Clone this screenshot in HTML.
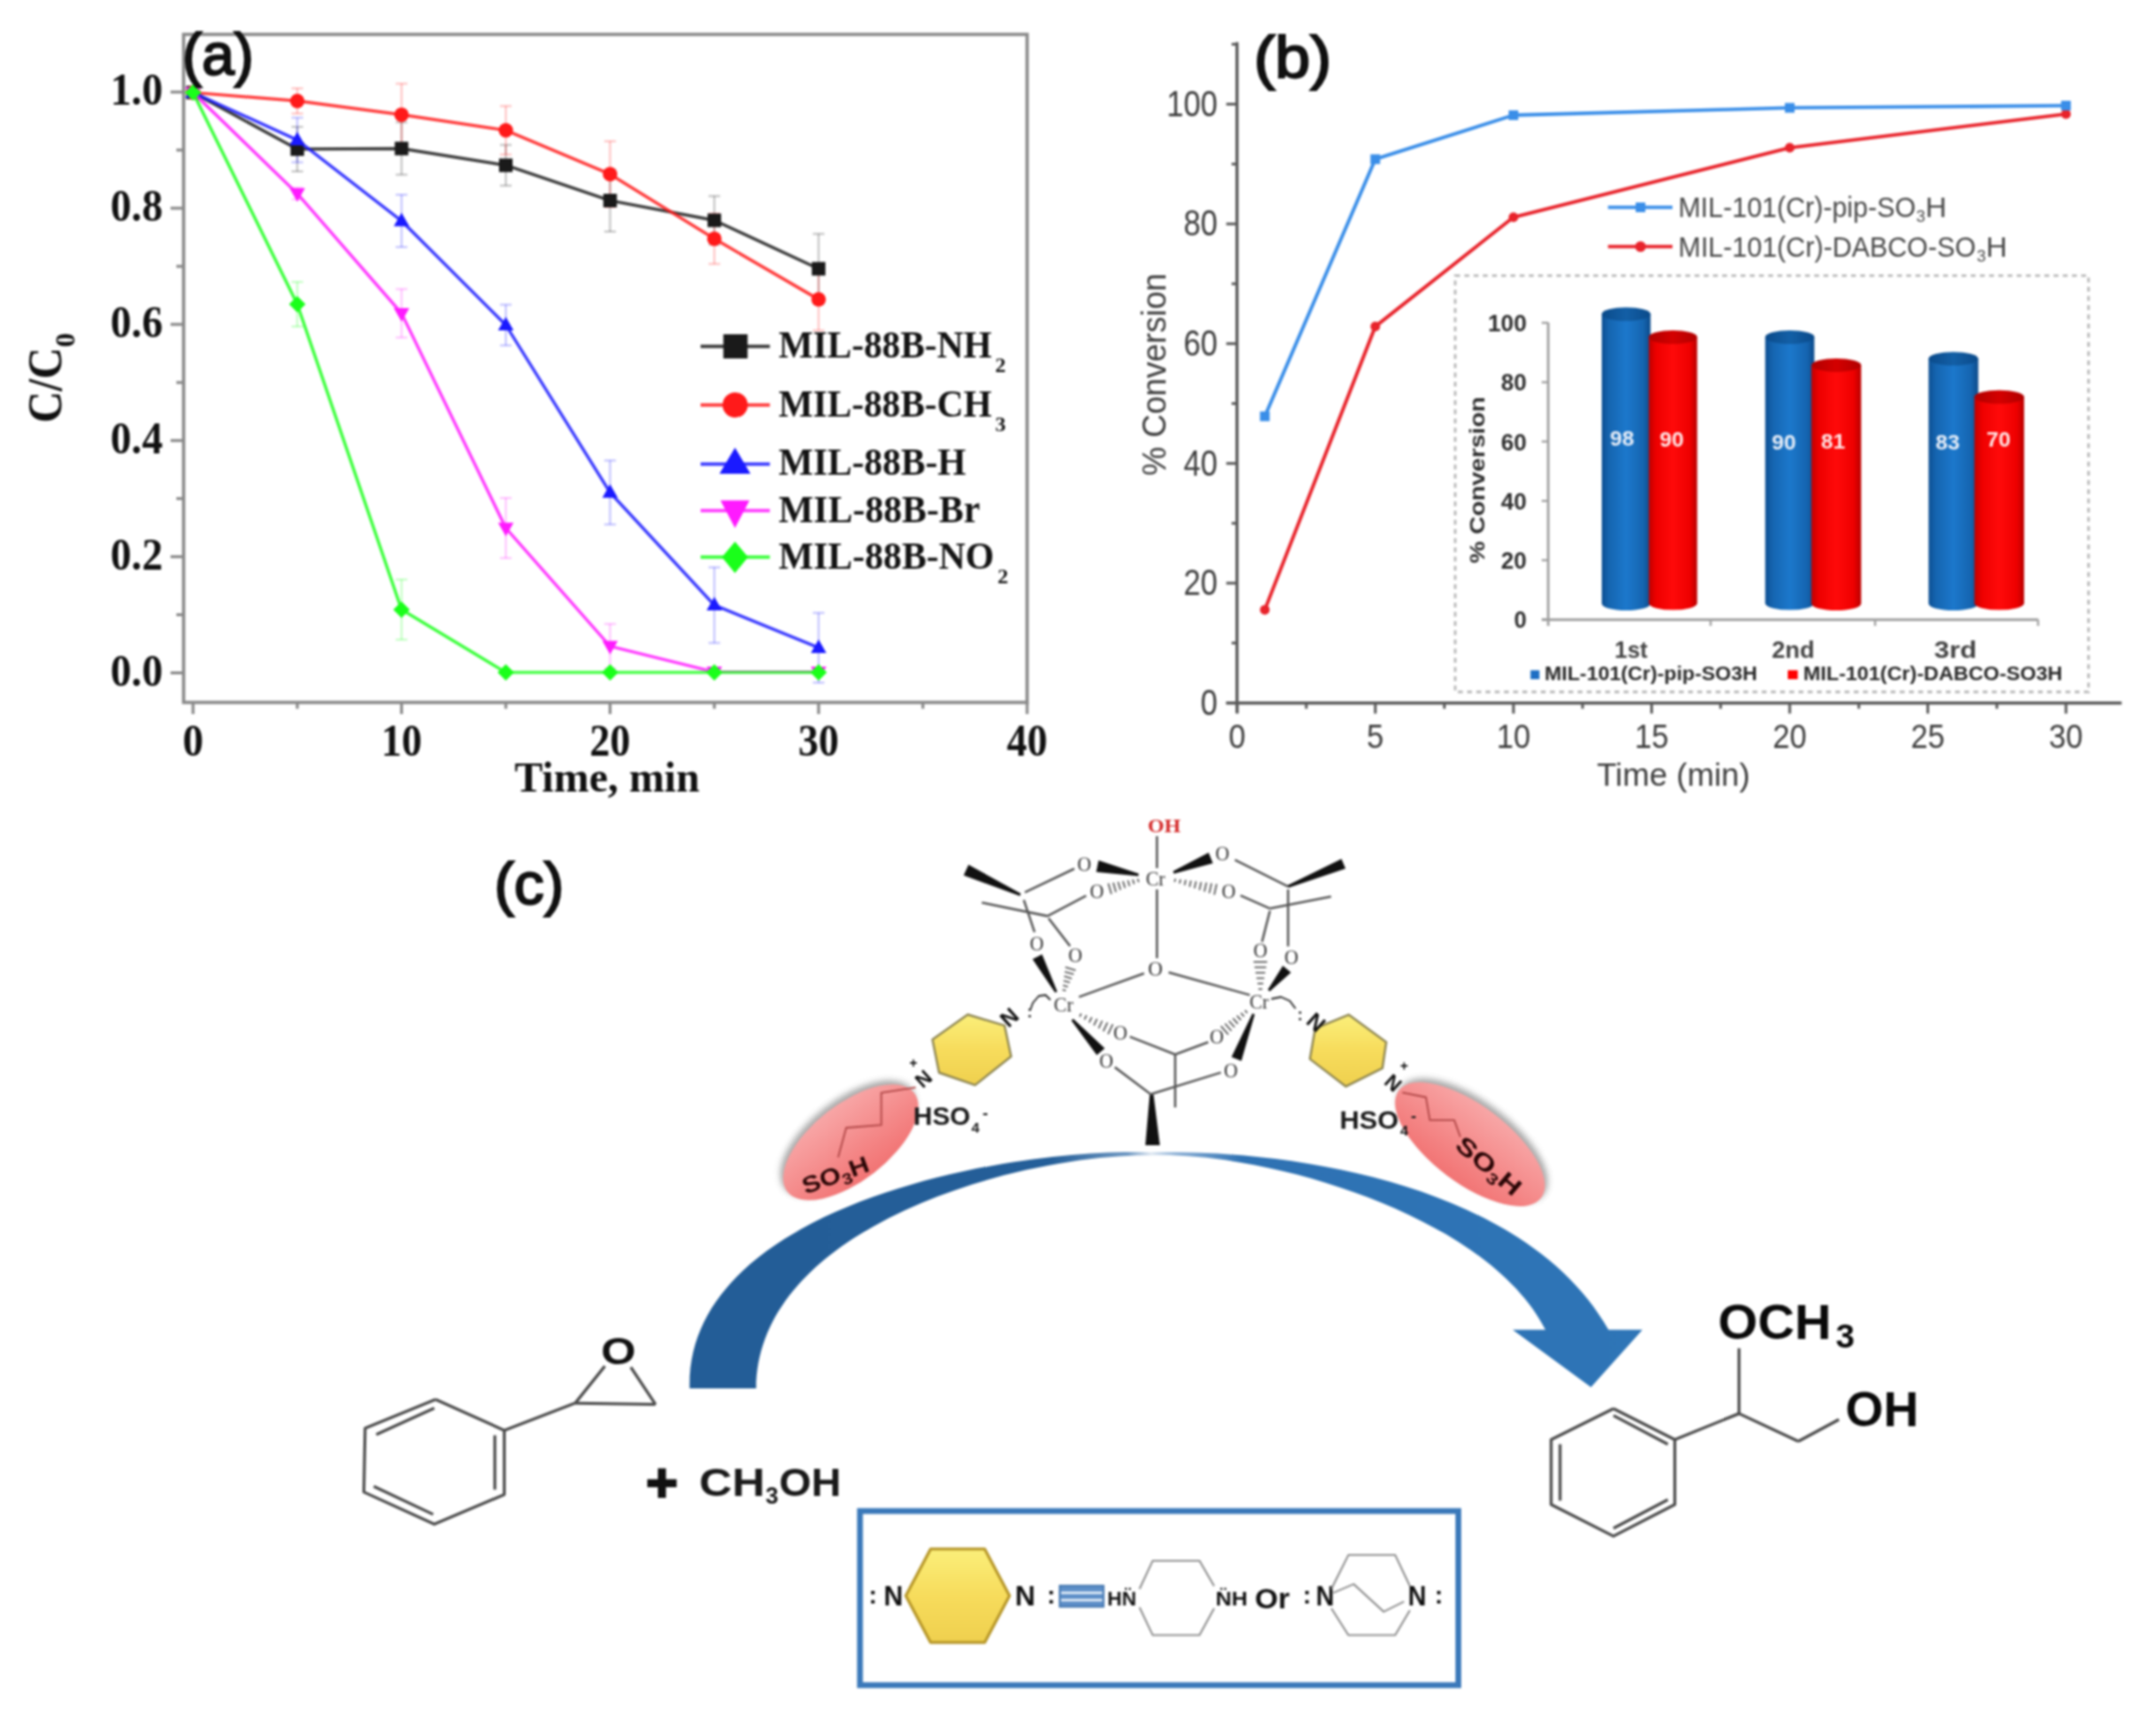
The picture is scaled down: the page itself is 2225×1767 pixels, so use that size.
<!DOCTYPE html><html><head><meta charset="utf-8"><title>Figure</title><style>html,body{margin:0;padding:0;background:#fff;}svg{display:block;}#fig{filter:blur(1px);width:2225px;height:1767px;}</style></head><body><div id="fig">
<svg width="2225" height="1767" viewBox="0 0 2225 1767">
<defs>
<linearGradient id="gb" x1="0" x2="1" y1="0" y2="0"><stop offset="0" stop-color="#0d4f93"/><stop offset="0.15" stop-color="#1565b0"/><stop offset="0.5" stop-color="#1c78cc"/><stop offset="0.85" stop-color="#1565b0"/><stop offset="1" stop-color="#0c4a8a"/></linearGradient>
<linearGradient id="gr" x1="0" x2="1" y1="0" y2="0"><stop offset="0" stop-color="#c00000"/><stop offset="0.15" stop-color="#ee0000"/><stop offset="0.5" stop-color="#ff0a0a"/><stop offset="0.85" stop-color="#ee0000"/><stop offset="1" stop-color="#b80000"/></linearGradient>
<linearGradient id="tb" x1="0" x2="1" y1="0" y2="0"><stop offset="0" stop-color="#0a4a8a"/><stop offset="0.5" stop-color="#135fa6"/><stop offset="1" stop-color="#0a4a8a"/></linearGradient>
<linearGradient id="tr" x1="0" x2="1" y1="0" y2="0"><stop offset="0" stop-color="#b00000"/><stop offset="0.5" stop-color="#d40000"/><stop offset="1" stop-color="#b00000"/></linearGradient>
<linearGradient id="arc" gradientUnits="userSpaceOnUse" x1="711" y1="0" x2="1695" y2="0"><stop offset="0" stop-color="#235d97"/><stop offset="0.38" stop-color="#255f99"/><stop offset="0.46" stop-color="#6f98c2"/><stop offset="0.485" stop-color="#dfe8f2"/><stop offset="0.51" stop-color="#8fb2d6"/><stop offset="0.58" stop-color="#2f72b3"/><stop offset="1" stop-color="#2e75b7"/></linearGradient>
<linearGradient id="yel" x1="0" x2="0" y1="0" y2="1"><stop offset="0" stop-color="#fbef7a"/><stop offset="0.5" stop-color="#f7dc5c"/><stop offset="1" stop-color="#efd04e"/></linearGradient>
<linearGradient id="pink" x1="0" x2="0" y1="0" y2="1"><stop offset="0" stop-color="#f8a6a6"/><stop offset="1" stop-color="#f27474"/></linearGradient>
<filter id="blur3" x="-20%" y="-20%" width="140%" height="140%"><feGaussianBlur stdDeviation="3"/></filter>
<filter id="blur1" x="-20%" y="-20%" width="140%" height="140%"><feGaussianBlur stdDeviation="0.6"/></filter>
</defs>
<rect width="2225" height="1767" fill="#fff"/>
<rect x="189.5" y="35.5" width="870.5" height="689.5" fill="none" stroke="#8a8a8a" stroke-width="3.4"/>
<line x1="176" y1="694.5" x2="189.5" y2="694.5" stroke="#8a8a8a" stroke-width="3"/>
<line x1="182" y1="634.5" x2="189.5" y2="634.5" stroke="#8a8a8a" stroke-width="3"/>
<line x1="176" y1="574.6" x2="189.5" y2="574.6" stroke="#8a8a8a" stroke-width="3"/>
<line x1="182" y1="514.6" x2="189.5" y2="514.6" stroke="#8a8a8a" stroke-width="3"/>
<line x1="176" y1="454.7" x2="189.5" y2="454.7" stroke="#8a8a8a" stroke-width="3"/>
<line x1="182" y1="394.8" x2="189.5" y2="394.8" stroke="#8a8a8a" stroke-width="3"/>
<line x1="176" y1="334.8" x2="189.5" y2="334.8" stroke="#8a8a8a" stroke-width="3"/>
<line x1="182" y1="274.9" x2="189.5" y2="274.9" stroke="#8a8a8a" stroke-width="3"/>
<line x1="176" y1="214.9" x2="189.5" y2="214.9" stroke="#8a8a8a" stroke-width="3"/>
<line x1="182" y1="154.9" x2="189.5" y2="154.9" stroke="#8a8a8a" stroke-width="3"/>
<line x1="176" y1="95" x2="189.5" y2="95" stroke="#8a8a8a" stroke-width="3"/>
<line x1="199.2" y1="725" x2="199.2" y2="737" stroke="#8a8a8a" stroke-width="3"/>
<line x1="306.8" y1="725" x2="306.8" y2="731.5" stroke="#8a8a8a" stroke-width="3"/>
<line x1="414.4" y1="725" x2="414.4" y2="737" stroke="#8a8a8a" stroke-width="3"/>
<line x1="522" y1="725" x2="522" y2="731.5" stroke="#8a8a8a" stroke-width="3"/>
<line x1="629.6" y1="725" x2="629.6" y2="737" stroke="#8a8a8a" stroke-width="3"/>
<line x1="737.2" y1="725" x2="737.2" y2="731.5" stroke="#8a8a8a" stroke-width="3"/>
<line x1="844.8" y1="725" x2="844.8" y2="737" stroke="#8a8a8a" stroke-width="3"/>
<line x1="952.4" y1="725" x2="952.4" y2="731.5" stroke="#8a8a8a" stroke-width="3"/>
<line x1="1060" y1="725" x2="1060" y2="737" stroke="#8a8a8a" stroke-width="3"/>
<text x="168" y="707.7" font-family="'Liberation Serif', 'Times New Roman', serif" font-size="45.5" font-weight="bold" fill="#111" text-anchor="end" textLength="54" lengthAdjust="spacingAndGlyphs">0.0</text>
<text x="168" y="587.8" font-family="'Liberation Serif', 'Times New Roman', serif" font-size="45.5" font-weight="bold" fill="#111" text-anchor="end" textLength="54" lengthAdjust="spacingAndGlyphs">0.2</text>
<text x="168" y="467.9" font-family="'Liberation Serif', 'Times New Roman', serif" font-size="45.5" font-weight="bold" fill="#111" text-anchor="end" textLength="54" lengthAdjust="spacingAndGlyphs">0.4</text>
<text x="168" y="348" font-family="'Liberation Serif', 'Times New Roman', serif" font-size="45.5" font-weight="bold" fill="#111" text-anchor="end" textLength="54" lengthAdjust="spacingAndGlyphs">0.6</text>
<text x="168" y="228.1" font-family="'Liberation Serif', 'Times New Roman', serif" font-size="45.5" font-weight="bold" fill="#111" text-anchor="end" textLength="54" lengthAdjust="spacingAndGlyphs">0.8</text>
<text x="168" y="108.2" font-family="'Liberation Serif', 'Times New Roman', serif" font-size="45.5" font-weight="bold" fill="#111" text-anchor="end" textLength="54" lengthAdjust="spacingAndGlyphs">1.0</text>
<text x="199.2" y="780" font-family="'Liberation Serif', 'Times New Roman', serif" font-size="45.5" font-weight="bold" fill="#111" text-anchor="middle" textLength="21.5" lengthAdjust="spacingAndGlyphs">0</text>
<text x="414.4" y="780" font-family="'Liberation Serif', 'Times New Roman', serif" font-size="45.5" font-weight="bold" fill="#111" text-anchor="middle" textLength="42" lengthAdjust="spacingAndGlyphs">10</text>
<text x="629.6" y="780" font-family="'Liberation Serif', 'Times New Roman', serif" font-size="45.5" font-weight="bold" fill="#111" text-anchor="middle" textLength="42" lengthAdjust="spacingAndGlyphs">20</text>
<text x="844.8" y="780" font-family="'Liberation Serif', 'Times New Roman', serif" font-size="45.5" font-weight="bold" fill="#111" text-anchor="middle" textLength="42" lengthAdjust="spacingAndGlyphs">30</text>
<text x="1060" y="780" font-family="'Liberation Serif', 'Times New Roman', serif" font-size="45.5" font-weight="bold" fill="#111" text-anchor="middle" textLength="42" lengthAdjust="spacingAndGlyphs">40</text>
<text x="531" y="816.5" font-family="'Liberation Serif', 'Times New Roman', serif" font-size="45" font-weight="bold" fill="#111" text-anchor="start" textLength="191" lengthAdjust="spacingAndGlyphs">Time, min</text>
<g transform="translate(62.5,436.5) rotate(-90)">
<text x="0" y="0" font-family="'Liberation Serif', 'Times New Roman', serif" font-size="50" font-weight="bold" fill="#111"><tspan textLength="78" lengthAdjust="spacingAndGlyphs">C/C</tspan><tspan font-size="30" dy="14">0</tspan></text>
</g>
<line x1="306.8" y1="130.9" x2="306.8" y2="176.9" stroke="rgba(0,0,0,0.22)" stroke-width="2.2"/>
<line x1="300.8" y1="130.9" x2="312.8" y2="130.9" stroke="rgba(0,0,0,0.22)" stroke-width="2.2"/>
<line x1="300.8" y1="176.9" x2="312.8" y2="176.9" stroke="rgba(0,0,0,0.22)" stroke-width="2.2"/>
<line x1="414.4" y1="126.3" x2="414.4" y2="180.3" stroke="rgba(0,0,0,0.22)" stroke-width="2.2"/>
<line x1="408.4" y1="126.3" x2="420.4" y2="126.3" stroke="rgba(0,0,0,0.22)" stroke-width="2.2"/>
<line x1="408.4" y1="180.3" x2="420.4" y2="180.3" stroke="rgba(0,0,0,0.22)" stroke-width="2.2"/>
<line x1="522" y1="149.6" x2="522" y2="191.6" stroke="rgba(0,0,0,0.22)" stroke-width="2.2"/>
<line x1="516" y1="149.6" x2="528" y2="149.6" stroke="rgba(0,0,0,0.22)" stroke-width="2.2"/>
<line x1="516" y1="191.6" x2="528" y2="191.6" stroke="rgba(0,0,0,0.22)" stroke-width="2.2"/>
<line x1="629.6" y1="175" x2="629.6" y2="239" stroke="rgba(0,0,0,0.22)" stroke-width="2.2"/>
<line x1="623.6" y1="175" x2="635.6" y2="175" stroke="rgba(0,0,0,0.22)" stroke-width="2.2"/>
<line x1="623.6" y1="239" x2="635.6" y2="239" stroke="rgba(0,0,0,0.22)" stroke-width="2.2"/>
<line x1="737.2" y1="202.4" x2="737.2" y2="252.4" stroke="rgba(0,0,0,0.22)" stroke-width="2.2"/>
<line x1="731.2" y1="202.4" x2="743.2" y2="202.4" stroke="rgba(0,0,0,0.22)" stroke-width="2.2"/>
<line x1="731.2" y1="252.4" x2="743.2" y2="252.4" stroke="rgba(0,0,0,0.22)" stroke-width="2.2"/>
<line x1="844.8" y1="241.4" x2="844.8" y2="313.4" stroke="rgba(0,0,0,0.22)" stroke-width="2.2"/>
<line x1="838.8" y1="241.4" x2="850.8" y2="241.4" stroke="rgba(0,0,0,0.22)" stroke-width="2.2"/>
<line x1="838.8" y1="313.4" x2="850.8" y2="313.4" stroke="rgba(0,0,0,0.22)" stroke-width="2.2"/>
<line x1="306.8" y1="91.2" x2="306.8" y2="117.2" stroke="rgba(255,0,0,0.22)" stroke-width="2.2"/>
<line x1="300.8" y1="91.2" x2="312.8" y2="91.2" stroke="rgba(255,0,0,0.22)" stroke-width="2.2"/>
<line x1="300.8" y1="117.2" x2="312.8" y2="117.2" stroke="rgba(255,0,0,0.22)" stroke-width="2.2"/>
<line x1="414.4" y1="86.4" x2="414.4" y2="150.4" stroke="rgba(255,0,0,0.22)" stroke-width="2.2"/>
<line x1="408.4" y1="86.4" x2="420.4" y2="86.4" stroke="rgba(255,0,0,0.22)" stroke-width="2.2"/>
<line x1="408.4" y1="150.4" x2="420.4" y2="150.4" stroke="rgba(255,0,0,0.22)" stroke-width="2.2"/>
<line x1="522" y1="109.5" x2="522" y2="159.5" stroke="rgba(255,0,0,0.22)" stroke-width="2.2"/>
<line x1="516" y1="109.5" x2="528" y2="109.5" stroke="rgba(255,0,0,0.22)" stroke-width="2.2"/>
<line x1="516" y1="159.5" x2="528" y2="159.5" stroke="rgba(255,0,0,0.22)" stroke-width="2.2"/>
<line x1="629.6" y1="145.8" x2="629.6" y2="213.8" stroke="rgba(255,0,0,0.22)" stroke-width="2.2"/>
<line x1="623.6" y1="145.8" x2="635.6" y2="145.8" stroke="rgba(255,0,0,0.22)" stroke-width="2.2"/>
<line x1="623.6" y1="213.8" x2="635.6" y2="213.8" stroke="rgba(255,0,0,0.22)" stroke-width="2.2"/>
<line x1="737.2" y1="220.4" x2="737.2" y2="272.4" stroke="rgba(255,0,0,0.22)" stroke-width="2.2"/>
<line x1="731.2" y1="220.4" x2="743.2" y2="220.4" stroke="rgba(255,0,0,0.22)" stroke-width="2.2"/>
<line x1="731.2" y1="272.4" x2="743.2" y2="272.4" stroke="rgba(255,0,0,0.22)" stroke-width="2.2"/>
<line x1="844.8" y1="277" x2="844.8" y2="341" stroke="rgba(255,0,0,0.22)" stroke-width="2.2"/>
<line x1="838.8" y1="277" x2="850.8" y2="277" stroke="rgba(255,0,0,0.22)" stroke-width="2.2"/>
<line x1="838.8" y1="341" x2="850.8" y2="341" stroke="rgba(255,0,0,0.22)" stroke-width="2.2"/>
<line x1="306.8" y1="121.5" x2="306.8" y2="167.5" stroke="rgba(0,0,255,0.22)" stroke-width="2.2"/>
<line x1="300.8" y1="121.5" x2="312.8" y2="121.5" stroke="rgba(0,0,255,0.22)" stroke-width="2.2"/>
<line x1="300.8" y1="167.5" x2="312.8" y2="167.5" stroke="rgba(0,0,255,0.22)" stroke-width="2.2"/>
<line x1="414.4" y1="201" x2="414.4" y2="255" stroke="rgba(0,0,255,0.22)" stroke-width="2.2"/>
<line x1="408.4" y1="201" x2="420.4" y2="201" stroke="rgba(0,0,255,0.22)" stroke-width="2.2"/>
<line x1="408.4" y1="255" x2="420.4" y2="255" stroke="rgba(0,0,255,0.22)" stroke-width="2.2"/>
<line x1="522" y1="314.5" x2="522" y2="356.5" stroke="rgba(0,0,255,0.22)" stroke-width="2.2"/>
<line x1="516" y1="314.5" x2="528" y2="314.5" stroke="rgba(0,0,255,0.22)" stroke-width="2.2"/>
<line x1="516" y1="356.5" x2="528" y2="356.5" stroke="rgba(0,0,255,0.22)" stroke-width="2.2"/>
<line x1="629.6" y1="475.3" x2="629.6" y2="541.3" stroke="rgba(0,0,255,0.22)" stroke-width="2.2"/>
<line x1="623.6" y1="475.3" x2="635.6" y2="475.3" stroke="rgba(0,0,255,0.22)" stroke-width="2.2"/>
<line x1="623.6" y1="541.3" x2="635.6" y2="541.3" stroke="rgba(0,0,255,0.22)" stroke-width="2.2"/>
<line x1="737.2" y1="585.6" x2="737.2" y2="663.6" stroke="rgba(0,0,255,0.22)" stroke-width="2.2"/>
<line x1="731.2" y1="585.6" x2="743.2" y2="585.6" stroke="rgba(0,0,255,0.22)" stroke-width="2.2"/>
<line x1="731.2" y1="663.6" x2="743.2" y2="663.6" stroke="rgba(0,0,255,0.22)" stroke-width="2.2"/>
<line x1="844.8" y1="632.6" x2="844.8" y2="704.6" stroke="rgba(0,0,255,0.22)" stroke-width="2.2"/>
<line x1="838.8" y1="632.6" x2="850.8" y2="632.6" stroke="rgba(0,0,255,0.22)" stroke-width="2.2"/>
<line x1="838.8" y1="704.6" x2="850.8" y2="704.6" stroke="rgba(0,0,255,0.22)" stroke-width="2.2"/>
<line x1="306.8" y1="193.8" x2="306.8" y2="205.8" stroke="rgba(255,0,255,0.22)" stroke-width="2.2"/>
<line x1="300.8" y1="193.8" x2="312.8" y2="193.8" stroke="rgba(255,0,255,0.22)" stroke-width="2.2"/>
<line x1="300.8" y1="205.8" x2="312.8" y2="205.8" stroke="rgba(255,0,255,0.22)" stroke-width="2.2"/>
<line x1="414.4" y1="298.4" x2="414.4" y2="348.4" stroke="rgba(255,0,255,0.22)" stroke-width="2.2"/>
<line x1="408.4" y1="298.4" x2="420.4" y2="298.4" stroke="rgba(255,0,255,0.22)" stroke-width="2.2"/>
<line x1="408.4" y1="348.4" x2="420.4" y2="348.4" stroke="rgba(255,0,255,0.22)" stroke-width="2.2"/>
<line x1="522" y1="514" x2="522" y2="576" stroke="rgba(255,0,255,0.22)" stroke-width="2.2"/>
<line x1="516" y1="514" x2="528" y2="514" stroke="rgba(255,0,255,0.22)" stroke-width="2.2"/>
<line x1="516" y1="576" x2="528" y2="576" stroke="rgba(255,0,255,0.22)" stroke-width="2.2"/>
<line x1="629.6" y1="644" x2="629.6" y2="690" stroke="rgba(255,0,255,0.22)" stroke-width="2.2"/>
<line x1="623.6" y1="644" x2="635.6" y2="644" stroke="rgba(255,0,255,0.22)" stroke-width="2.2"/>
<line x1="623.6" y1="690" x2="635.6" y2="690" stroke="rgba(255,0,255,0.22)" stroke-width="2.2"/>
<line x1="306.8" y1="291" x2="306.8" y2="337" stroke="rgba(0,255,0,0.22)" stroke-width="2.2"/>
<line x1="300.8" y1="291" x2="312.8" y2="291" stroke="rgba(0,255,0,0.22)" stroke-width="2.2"/>
<line x1="300.8" y1="337" x2="312.8" y2="337" stroke="rgba(0,255,0,0.22)" stroke-width="2.2"/>
<line x1="414.4" y1="598.2" x2="414.4" y2="660.2" stroke="rgba(0,255,0,0.22)" stroke-width="2.2"/>
<line x1="408.4" y1="598.2" x2="420.4" y2="598.2" stroke="rgba(0,255,0,0.22)" stroke-width="2.2"/>
<line x1="408.4" y1="660.2" x2="420.4" y2="660.2" stroke="rgba(0,255,0,0.22)" stroke-width="2.2"/>
<polyline points="199.2,95.5 306.8,153.9 414.4,153.3 522,170.6 629.6,207 737.2,227.4 844.8,277.4" fill="none" stroke="#1a1a1a" stroke-width="3.2" stroke-linejoin="round" opacity="0.85"/>
<rect x="192.2" y="88.5" width="14" height="14" fill="#1a1a1a"/>
<rect x="299.8" y="146.9" width="14" height="14" fill="#1a1a1a"/>
<rect x="407.4" y="146.3" width="14" height="14" fill="#1a1a1a"/>
<rect x="515" y="163.6" width="14" height="14" fill="#1a1a1a"/>
<rect x="622.6" y="200" width="14" height="14" fill="#1a1a1a"/>
<rect x="730.2" y="220.4" width="14" height="14" fill="#1a1a1a"/>
<rect x="837.8" y="270.4" width="14" height="14" fill="#1a1a1a"/>
<polyline points="199.2,95.5 306.8,104.2 414.4,118.4 522,134.5 629.6,179.8 737.2,246.4 844.8,309" fill="none" stroke="#ff1a1a" stroke-width="3.2" stroke-linejoin="round" opacity="0.85"/>
<circle cx="199.2" cy="95.5" r="7.5" fill="#ff1a1a"/>
<circle cx="306.8" cy="104.2" r="7.5" fill="#ff1a1a"/>
<circle cx="414.4" cy="118.4" r="7.5" fill="#ff1a1a"/>
<circle cx="522" cy="134.5" r="7.5" fill="#ff1a1a"/>
<circle cx="629.6" cy="179.8" r="7.5" fill="#ff1a1a"/>
<circle cx="737.2" cy="246.4" r="7.5" fill="#ff1a1a"/>
<circle cx="844.8" cy="309" r="7.5" fill="#ff1a1a"/>
<polyline points="199.2,95.5 306.8,144.5 414.4,228 522,335.5 629.6,508.3 737.2,624.6 844.8,668.6" fill="none" stroke="#1a1aff" stroke-width="3.2" stroke-linejoin="round" opacity="0.85"/>
<polygon points="199.2,87 207.2,101 191.2,101" fill="#1a1aff"/>
<polygon points="306.8,136 314.8,150 298.8,150" fill="#1a1aff"/>
<polygon points="414.4,219.5 422.4,233.5 406.4,233.5" fill="#1a1aff"/>
<polygon points="522,327 530,341 514,341" fill="#1a1aff"/>
<polygon points="629.6,499.8 637.6,513.8 621.6,513.8" fill="#1a1aff"/>
<polygon points="737.2,616.1 745.2,630.1 729.2,630.1" fill="#1a1aff"/>
<polygon points="844.8,660.1 852.8,674.1 836.8,674.1" fill="#1a1aff"/>
<polyline points="199.2,95.5 306.8,199.8 414.4,323.4 522,545 629.6,667 737.2,693.5 844.8,693.5" fill="none" stroke="#ff1aff" stroke-width="3.2" stroke-linejoin="round" opacity="0.85"/>
<polygon points="191.2,90 207.2,90 199.2,104" fill="#ff1aff"/>
<polygon points="298.8,194.3 314.8,194.3 306.8,208.3" fill="#ff1aff"/>
<polygon points="406.4,317.9 422.4,317.9 414.4,331.9" fill="#ff1aff"/>
<polygon points="514,539.5 530,539.5 522,553.5" fill="#ff1aff"/>
<polygon points="621.6,661.5 637.6,661.5 629.6,675.5" fill="#ff1aff"/>
<polygon points="729.2,688 745.2,688 737.2,702" fill="#ff1aff"/>
<polygon points="836.8,688 852.8,688 844.8,702" fill="#ff1aff"/>
<polyline points="199.2,95.5 306.8,314 414.4,629.2 522,694 629.6,694 737.2,694 844.8,694" fill="none" stroke="#1aff1a" stroke-width="3.2" stroke-linejoin="round" opacity="0.85"/>
<polygon points="199.2,87 207.7,95.5 199.2,104 190.7,95.5" fill="#1aff1a"/>
<polygon points="306.8,305.5 315.3,314 306.8,322.5 298.3,314" fill="#1aff1a"/>
<polygon points="414.4,620.7 422.9,629.2 414.4,637.7 405.9,629.2" fill="#1aff1a"/>
<polygon points="522,685.5 530.5,694 522,702.5 513.5,694" fill="#1aff1a"/>
<polygon points="629.6,685.5 638.1,694 629.6,702.5 621.1,694" fill="#1aff1a"/>
<polygon points="737.2,685.5 745.7,694 737.2,702.5 728.7,694" fill="#1aff1a"/>
<polygon points="844.8,685.5 853.3,694 844.8,702.5 836.3,694" fill="#1aff1a"/>
<line x1="723" y1="357.5" x2="794.5" y2="357.5" stroke="#1a1a1a" stroke-width="3.4" opacity="0.85"/>
<rect x="746.5" y="345" width="25" height="25" fill="#1a1a1a"/>
<text x="803.5" y="368.5" font-family="'Liberation Serif', 'Times New Roman', serif" font-size="39.5" font-weight="bold" fill="#141414" text-anchor="start" textLength="220" lengthAdjust="spacingAndGlyphs">MIL-88B-NH</text>
<text x="1027" y="383.5" font-family="'Liberation Serif', 'Times New Roman', serif" font-size="22" font-weight="bold" fill="#141414" text-anchor="start">2</text>
<line x1="723" y1="418" x2="794.5" y2="418" stroke="#ff1a1a" stroke-width="3.4" opacity="0.85"/>
<circle cx="758.7" cy="418" r="13" fill="#ff1a1a"/>
<text x="803.5" y="430" font-family="'Liberation Serif', 'Times New Roman', serif" font-size="39.5" font-weight="bold" fill="#141414" text-anchor="start" textLength="220" lengthAdjust="spacingAndGlyphs">MIL-88B-CH</text>
<text x="1027" y="445" font-family="'Liberation Serif', 'Times New Roman', serif" font-size="22" font-weight="bold" fill="#141414" text-anchor="start">3</text>
<line x1="723" y1="479" x2="794.5" y2="479" stroke="#1a1aff" stroke-width="3.4" opacity="0.85"/>
<polygon points="758.5,462 774.5,489 742.5,489" fill="#1a1aff"/>
<text x="803.5" y="490" font-family="'Liberation Serif', 'Times New Roman', serif" font-size="39.5" font-weight="bold" fill="#141414" text-anchor="start" textLength="193.5" lengthAdjust="spacingAndGlyphs">MIL-88B-H</text>
<line x1="723" y1="527" x2="794.5" y2="527" stroke="#ff1aff" stroke-width="3.4" opacity="0.85"/>
<polygon points="743.5,516.5 773.5,516.5 758.5,545" fill="#ff1aff"/>
<text x="803.5" y="538.5" font-family="'Liberation Serif', 'Times New Roman', serif" font-size="39.5" font-weight="bold" fill="#141414" text-anchor="start" textLength="208" lengthAdjust="spacingAndGlyphs">MIL-88B-Br</text>
<line x1="723" y1="575" x2="794.5" y2="575" stroke="#1aff1a" stroke-width="3.4" opacity="0.85"/>
<polygon points="758.5,559 772,575 758.5,591.5 745,575" fill="#1aff1a"/>
<text x="803.5" y="586.5" font-family="'Liberation Serif', 'Times New Roman', serif" font-size="39.5" font-weight="bold" fill="#141414" text-anchor="start" textLength="222.5" lengthAdjust="spacingAndGlyphs">MIL-88B-NO</text>
<text x="1029.5" y="601.5" font-family="'Liberation Serif', 'Times New Roman', serif" font-size="22" font-weight="bold" fill="#141414" text-anchor="start">2</text>
<line x1="1276.6" y1="43.5" x2="1276.6" y2="736" stroke="#5a5a5a" stroke-width="3.2"/>
<line x1="1265.5" y1="725.6" x2="2189.5" y2="725.6" stroke="#5a5a5a" stroke-width="3.2"/>
<line x1="1265.5" y1="725.5" x2="1276.6" y2="725.5" stroke="#5a5a5a" stroke-width="2.8"/>
<line x1="1271" y1="663.7" x2="1276.6" y2="663.7" stroke="#5a5a5a" stroke-width="2.8"/>
<line x1="1265.5" y1="601.9" x2="1276.6" y2="601.9" stroke="#5a5a5a" stroke-width="2.8"/>
<line x1="1271" y1="540.1" x2="1276.6" y2="540.1" stroke="#5a5a5a" stroke-width="2.8"/>
<line x1="1265.5" y1="478.3" x2="1276.6" y2="478.3" stroke="#5a5a5a" stroke-width="2.8"/>
<line x1="1271" y1="416.5" x2="1276.6" y2="416.5" stroke="#5a5a5a" stroke-width="2.8"/>
<line x1="1265.5" y1="354.7" x2="1276.6" y2="354.7" stroke="#5a5a5a" stroke-width="2.8"/>
<line x1="1271" y1="292.9" x2="1276.6" y2="292.9" stroke="#5a5a5a" stroke-width="2.8"/>
<line x1="1265.5" y1="231.1" x2="1276.6" y2="231.1" stroke="#5a5a5a" stroke-width="2.8"/>
<line x1="1271" y1="169.3" x2="1276.6" y2="169.3" stroke="#5a5a5a" stroke-width="2.8"/>
<line x1="1265.5" y1="107.5" x2="1276.6" y2="107.5" stroke="#5a5a5a" stroke-width="2.8"/>
<line x1="1271" y1="45.7" x2="1276.6" y2="45.7" stroke="#5a5a5a" stroke-width="2.8"/>
<line x1="1276.8" y1="725.6" x2="1276.8" y2="736.5" stroke="#5a5a5a" stroke-width="2.8"/>
<line x1="1348.1" y1="725.6" x2="1348.1" y2="731.5" stroke="#5a5a5a" stroke-width="2.8"/>
<line x1="1419.3" y1="725.6" x2="1419.3" y2="736.5" stroke="#5a5a5a" stroke-width="2.8"/>
<line x1="1490.6" y1="725.6" x2="1490.6" y2="731.5" stroke="#5a5a5a" stroke-width="2.8"/>
<line x1="1561.9" y1="725.6" x2="1561.9" y2="736.5" stroke="#5a5a5a" stroke-width="2.8"/>
<line x1="1633.2" y1="725.6" x2="1633.2" y2="731.5" stroke="#5a5a5a" stroke-width="2.8"/>
<line x1="1704.5" y1="725.6" x2="1704.5" y2="736.5" stroke="#5a5a5a" stroke-width="2.8"/>
<line x1="1775.7" y1="725.6" x2="1775.7" y2="731.5" stroke="#5a5a5a" stroke-width="2.8"/>
<line x1="1847" y1="725.6" x2="1847" y2="736.5" stroke="#5a5a5a" stroke-width="2.8"/>
<line x1="1918.3" y1="725.6" x2="1918.3" y2="731.5" stroke="#5a5a5a" stroke-width="2.8"/>
<line x1="1989.5" y1="725.6" x2="1989.5" y2="736.5" stroke="#5a5a5a" stroke-width="2.8"/>
<line x1="2060.8" y1="725.6" x2="2060.8" y2="731.5" stroke="#5a5a5a" stroke-width="2.8"/>
<line x1="2132.1" y1="725.6" x2="2132.1" y2="736.5" stroke="#5a5a5a" stroke-width="2.8"/>
<text x="1256.5" y="737.8" font-family="'Liberation Sans', Arial, sans-serif" font-size="36.5" font-weight="normal" fill="#3d3d3d" text-anchor="end" textLength="17.5" lengthAdjust="spacingAndGlyphs">0</text>
<text x="1256.5" y="614.2" font-family="'Liberation Sans', Arial, sans-serif" font-size="36.5" font-weight="normal" fill="#3d3d3d" text-anchor="end" textLength="35" lengthAdjust="spacingAndGlyphs">20</text>
<text x="1256.5" y="490.6" font-family="'Liberation Sans', Arial, sans-serif" font-size="36.5" font-weight="normal" fill="#3d3d3d" text-anchor="end" textLength="35" lengthAdjust="spacingAndGlyphs">40</text>
<text x="1256.5" y="367" font-family="'Liberation Sans', Arial, sans-serif" font-size="36.5" font-weight="normal" fill="#3d3d3d" text-anchor="end" textLength="35" lengthAdjust="spacingAndGlyphs">60</text>
<text x="1256.5" y="243.4" font-family="'Liberation Sans', Arial, sans-serif" font-size="36.5" font-weight="normal" fill="#3d3d3d" text-anchor="end" textLength="35" lengthAdjust="spacingAndGlyphs">80</text>
<text x="1256.5" y="119.8" font-family="'Liberation Sans', Arial, sans-serif" font-size="36.5" font-weight="normal" fill="#3d3d3d" text-anchor="end" textLength="52.5" lengthAdjust="spacingAndGlyphs">100</text>
<text x="1276.8" y="772" font-family="'Liberation Sans', Arial, sans-serif" font-size="35.5" font-weight="normal" fill="#3d3d3d" text-anchor="middle" textLength="17.5" lengthAdjust="spacingAndGlyphs">0</text>
<text x="1419.3" y="772" font-family="'Liberation Sans', Arial, sans-serif" font-size="35.5" font-weight="normal" fill="#3d3d3d" text-anchor="middle" textLength="17.5" lengthAdjust="spacingAndGlyphs">5</text>
<text x="1561.9" y="772" font-family="'Liberation Sans', Arial, sans-serif" font-size="35.5" font-weight="normal" fill="#3d3d3d" text-anchor="middle" textLength="35" lengthAdjust="spacingAndGlyphs">10</text>
<text x="1704.5" y="772" font-family="'Liberation Sans', Arial, sans-serif" font-size="35.5" font-weight="normal" fill="#3d3d3d" text-anchor="middle" textLength="35" lengthAdjust="spacingAndGlyphs">15</text>
<text x="1847" y="772" font-family="'Liberation Sans', Arial, sans-serif" font-size="35.5" font-weight="normal" fill="#3d3d3d" text-anchor="middle" textLength="35" lengthAdjust="spacingAndGlyphs">20</text>
<text x="1989.5" y="772" font-family="'Liberation Sans', Arial, sans-serif" font-size="35.5" font-weight="normal" fill="#3d3d3d" text-anchor="middle" textLength="35" lengthAdjust="spacingAndGlyphs">25</text>
<text x="2132.1" y="772" font-family="'Liberation Sans', Arial, sans-serif" font-size="35.5" font-weight="normal" fill="#3d3d3d" text-anchor="middle" textLength="35" lengthAdjust="spacingAndGlyphs">30</text>
<text x="1648" y="810.5" font-family="'Liberation Sans', Arial, sans-serif" font-size="34" font-weight="normal" fill="#3d3d3d" text-anchor="start" textLength="158" lengthAdjust="spacingAndGlyphs">Time (min)</text>
<g transform="translate(1202.5,491) rotate(-90)"><text x="0" y="0" font-family="'Liberation Sans', Arial, sans-serif" font-size="35" fill="#3d3d3d" textLength="209" lengthAdjust="spacingAndGlyphs">% Conversion</text></g>
<polyline points="1305.3,629.4 1419.3,337 1561.9,224.2 1847,152.5 2132.1,117.7" fill="none" stroke="#e8232b" stroke-width="3.6" stroke-linejoin="round"/>
<polyline points="1305.3,429.7 1419.3,164.3 1561.9,118.9 1847,111.3 2132.1,109" fill="none" stroke="#3a8ee8" stroke-width="3.6" stroke-linejoin="round"/>
<circle cx="1305.3" cy="629.4" r="5" fill="#e8232b"/>
<circle cx="1419.3" cy="337" r="5" fill="#e8232b"/>
<circle cx="1561.9" cy="224.2" r="5" fill="#e8232b"/>
<circle cx="1847" cy="152.5" r="5" fill="#e8232b"/>
<circle cx="2132.1" cy="117.7" r="5" fill="#e8232b"/>
<rect x="1300.3" y="424.7" width="10" height="10" fill="#3a8ee8"/>
<rect x="1414.3" y="159.3" width="10" height="10" fill="#3a8ee8"/>
<rect x="1556.9" y="113.9" width="10" height="10" fill="#3a8ee8"/>
<rect x="1842" y="106.3" width="10" height="10" fill="#3a8ee8"/>
<rect x="2127.1" y="104" width="10" height="10" fill="#3a8ee8"/>
<line x1="1659.5" y1="214" x2="1726" y2="214" stroke="#3a8ee8" stroke-width="3.6"/>
<rect x="1688" y="209" width="10" height="10" fill="#3a8ee8"/>
<line x1="1659.5" y1="254.5" x2="1726" y2="254.5" stroke="#e8232b" stroke-width="3.6"/>
<circle cx="1693" cy="254.5" r="5.5" fill="#e8232b"/>
<text x="1732" y="224.2" font-family="'Liberation Sans', Arial, sans-serif" font-size="29.5" font-weight="normal" fill="#4a4a4a" text-anchor="start" textLength="245" lengthAdjust="spacingAndGlyphs">MIL-101(Cr)-pip-SO</text>
<text x="1977.5" y="229" font-family="'Liberation Sans', Arial, sans-serif" font-size="17" font-weight="normal" fill="#4a4a4a" text-anchor="start">3</text>
<text x="1987" y="224.2" font-family="'Liberation Sans', Arial, sans-serif" font-size="29.5" font-weight="normal" fill="#4a4a4a" text-anchor="start" textLength="22" lengthAdjust="spacingAndGlyphs">H</text>
<text x="1732" y="264.8" font-family="'Liberation Sans', Arial, sans-serif" font-size="29.5" font-weight="normal" fill="#4a4a4a" text-anchor="start" textLength="307" lengthAdjust="spacingAndGlyphs">MIL-101(Cr)-DABCO-SO</text>
<text x="2040" y="269.5" font-family="'Liberation Sans', Arial, sans-serif" font-size="17" font-weight="normal" fill="#4a4a4a" text-anchor="start">3</text>
<text x="2049.5" y="264.8" font-family="'Liberation Sans', Arial, sans-serif" font-size="29.5" font-weight="normal" fill="#4a4a4a" text-anchor="start" textLength="22" lengthAdjust="spacingAndGlyphs">H</text>
<rect x="1501.8" y="284.5" width="653.6" height="429.6" fill="none" stroke="#b8b8b8" stroke-width="2.6" stroke-dasharray="5 4.5"/>
<line x1="1597.8" y1="333" x2="1597.8" y2="646" stroke="#a0a0a0" stroke-width="2.6"/>
<line x1="1591" y1="639.6" x2="2103.5" y2="639.6" stroke="#a0a0a0" stroke-width="2.6"/>
<line x1="1591" y1="639.5" x2="1597.8" y2="639.5" stroke="#a0a0a0" stroke-width="2.2"/>
<text x="1575.5" y="648.3" font-family="'Liberation Sans', Arial, sans-serif" font-size="24.5" font-weight="bold" fill="#2e2e2e" text-anchor="end" textLength="13" lengthAdjust="spacingAndGlyphs">0</text>
<line x1="1591" y1="578.2" x2="1597.8" y2="578.2" stroke="#a0a0a0" stroke-width="2.2"/>
<text x="1575.5" y="587" font-family="'Liberation Sans', Arial, sans-serif" font-size="24.5" font-weight="bold" fill="#2e2e2e" text-anchor="end" textLength="26.5" lengthAdjust="spacingAndGlyphs">20</text>
<line x1="1591" y1="517" x2="1597.8" y2="517" stroke="#a0a0a0" stroke-width="2.2"/>
<text x="1575.5" y="525.8" font-family="'Liberation Sans', Arial, sans-serif" font-size="24.5" font-weight="bold" fill="#2e2e2e" text-anchor="end" textLength="26.5" lengthAdjust="spacingAndGlyphs">40</text>
<line x1="1591" y1="455.7" x2="1597.8" y2="455.7" stroke="#a0a0a0" stroke-width="2.2"/>
<text x="1575.5" y="464.5" font-family="'Liberation Sans', Arial, sans-serif" font-size="24.5" font-weight="bold" fill="#2e2e2e" text-anchor="end" textLength="26.5" lengthAdjust="spacingAndGlyphs">60</text>
<line x1="1591" y1="394.5" x2="1597.8" y2="394.5" stroke="#a0a0a0" stroke-width="2.2"/>
<text x="1575.5" y="403.3" font-family="'Liberation Sans', Arial, sans-serif" font-size="24.5" font-weight="bold" fill="#2e2e2e" text-anchor="end" textLength="26.5" lengthAdjust="spacingAndGlyphs">80</text>
<line x1="1591" y1="333.2" x2="1597.8" y2="333.2" stroke="#a0a0a0" stroke-width="2.2"/>
<text x="1575.5" y="342" font-family="'Liberation Sans', Arial, sans-serif" font-size="24.5" font-weight="bold" fill="#2e2e2e" text-anchor="end" textLength="40" lengthAdjust="spacingAndGlyphs">100</text>
<line x1="1765.4" y1="639.6" x2="1765.4" y2="646" stroke="#a0a0a0" stroke-width="2.2"/>
<line x1="1935.1" y1="639.6" x2="1935.1" y2="646" stroke="#a0a0a0" stroke-width="2.2"/>
<line x1="2103.3" y1="639.6" x2="2103.3" y2="646" stroke="#a0a0a0" stroke-width="2.2"/>
<text x="1683.3" y="678.8" font-family="'Liberation Sans', Arial, sans-serif" font-size="24" font-weight="bold" fill="#444" text-anchor="middle" textLength="34" lengthAdjust="spacingAndGlyphs">1st</text>
<text x="1850.5" y="678.8" font-family="'Liberation Sans', Arial, sans-serif" font-size="24" font-weight="bold" fill="#444" text-anchor="middle" textLength="44" lengthAdjust="spacingAndGlyphs">2nd</text>
<text x="2018" y="678.8" font-family="'Liberation Sans', Arial, sans-serif" font-size="24" font-weight="bold" fill="#444" text-anchor="middle" textLength="44" lengthAdjust="spacingAndGlyphs">3rd</text>
<g transform="translate(1532,581.5) rotate(-90)"><text x="0" y="0" font-family="'Liberation Sans', Arial, sans-serif" font-size="22" font-weight="bold" fill="#2e2e2e" textLength="172" lengthAdjust="spacingAndGlyphs">% Conversion</text></g>
<rect x="1579.5" y="691.8" width="9.2" height="9.2" fill="#1f6fc4"/>
<text x="1594" y="702.3" font-family="'Liberation Sans', Arial, sans-serif" font-size="21" font-weight="bold" fill="#2a2a2a" text-anchor="start" textLength="219.5" lengthAdjust="spacingAndGlyphs">MIL-101(Cr)-pip-SO3H</text>
<rect x="1845" y="691.8" width="10.3" height="9.2" fill="#ff0000"/>
<text x="1861" y="702.3" font-family="'Liberation Sans', Arial, sans-serif" font-size="21" font-weight="bold" fill="#2a2a2a" text-anchor="start" textLength="267.5" lengthAdjust="spacingAndGlyphs">MIL-101(Cr)-DABCO-SO3H</text>
<path d="M1653,324.3 L1653,623 A25.2,7 0 0 0 1703.4,623 L1703.4,324.3 Z" fill="url(#gb)"/>
<ellipse cx="1678.2" cy="324.3" rx="25.2" ry="7" fill="url(#tb)"/>
<text x="1674" y="459.5" font-family="'Liberation Sans', Arial, sans-serif" font-size="22" font-weight="bold" fill="#e8eef8" text-anchor="middle" textLength="25" lengthAdjust="spacingAndGlyphs">98</text>
<path d="M1701.6,348 L1701.6,623 A25,7 0 0 0 1751.5,623 L1751.5,348 Z" fill="url(#gr)"/>
<ellipse cx="1726.5" cy="348" rx="25" ry="7" fill="url(#tr)"/>
<text x="1725.2" y="460.5" font-family="'Liberation Sans', Arial, sans-serif" font-size="22" font-weight="bold" fill="#ffe8e8" text-anchor="middle" textLength="25" lengthAdjust="spacingAndGlyphs">90</text>
<path d="M1821.7,348 L1821.7,623 A25.4,7 0 0 0 1872.4,623 L1872.4,348 Z" fill="url(#gb)"/>
<ellipse cx="1847.1" cy="348" rx="25.4" ry="7" fill="url(#tb)"/>
<text x="1840.9" y="463.5" font-family="'Liberation Sans', Arial, sans-serif" font-size="22" font-weight="bold" fill="#e8eef8" text-anchor="middle" textLength="25" lengthAdjust="spacingAndGlyphs">90</text>
<path d="M1869.4,376.9 L1869.4,623 A25.6,7 0 0 0 1920.7,623 L1920.7,376.9 Z" fill="url(#gr)"/>
<ellipse cx="1895.1" cy="376.9" rx="25.6" ry="7" fill="url(#tr)"/>
<text x="1891.8" y="462.5" font-family="'Liberation Sans', Arial, sans-serif" font-size="22" font-weight="bold" fill="#ffe8e8" text-anchor="middle" textLength="25" lengthAdjust="spacingAndGlyphs">81</text>
<path d="M1990.3,370.3 L1990.3,623 A25.6,7 0 0 0 2041.6,623 L2041.6,370.3 Z" fill="url(#gb)"/>
<ellipse cx="2015.9" cy="370.3" rx="25.6" ry="7" fill="url(#tb)"/>
<text x="2010" y="463.5" font-family="'Liberation Sans', Arial, sans-serif" font-size="22" font-weight="bold" fill="#e8eef8" text-anchor="middle" textLength="25" lengthAdjust="spacingAndGlyphs">83</text>
<path d="M2037.6,409.7 L2037.6,623 A25.7,7 0 0 0 2088.9,623 L2088.9,409.7 Z" fill="url(#gr)"/>
<ellipse cx="2063.2" cy="409.7" rx="25.7" ry="7" fill="url(#tr)"/>
<text x="2062.6" y="460.5" font-family="'Liberation Sans', Arial, sans-serif" font-size="22" font-weight="bold" fill="#ffe8e8" text-anchor="middle" textLength="25" lengthAdjust="spacingAndGlyphs">70</text>
<text x="188" y="76.6" font-family="'Liberation Sans', Arial, sans-serif" font-size="62" font-weight="normal" fill="#101010" text-anchor="start" textLength="74" lengthAdjust="spacingAndGlyphs" stroke="#101010" stroke-width="2">(a)</text>
<text x="1294" y="79.7" font-family="'Liberation Sans', Arial, sans-serif" font-size="62" font-weight="normal" fill="#101010" text-anchor="start" textLength="80" lengthAdjust="spacingAndGlyphs" stroke="#101010" stroke-width="2">(b)</text>
<text x="510" y="932.8" font-family="'Liberation Sans', Arial, sans-serif" font-size="62" font-weight="normal" fill="#101010" text-anchor="start" textLength="72" lengthAdjust="spacingAndGlyphs" stroke="#101010" stroke-width="2">(c)</text>
<path d="M711.7,1432.9 C707.1,1242.6 1046.1,1184.1 1186,1189.2 C1340,1186.2 1576.8,1224.7 1660,1372.6 L1695,1372.6 L1641.9,1431.7 L1561.1,1372.6 L1594.9,1372.6 C1534.9,1253.5 1304.8,1187.5 1186,1192.5 C1054.8,1191.1 781.8,1263.9 780.4,1432.9 Z" fill="url(#arc)"/>
<ellipse cx="875" cy="1175" rx="83" ry="39.5" transform="rotate(-38 875 1175)" fill="#8a8a8a" opacity="0.75" filter="url(#blur3)"/>
<ellipse cx="878" cy="1179" rx="83" ry="39.5" transform="rotate(-38 878 1179)" fill="url(#pink)"/>
<ellipse cx="1520" cy="1177" rx="92" ry="40" transform="rotate(37 1520 1177)" fill="#8a8a8a" opacity="0.75" filter="url(#blur3)"/>
<ellipse cx="1517" cy="1181" rx="92" ry="40" transform="rotate(37 1517 1181)" fill="url(#pink)"/>
<polyline points="945,1122.3 909.5,1127.8 909.5,1161.2 873.3,1164 865,1194.6" fill="none" stroke="#b34a4a" stroke-width="1.8" stroke-linejoin="round"/>
<polyline points="1447.2,1127.7 1471.6,1132.5 1475.6,1156.1 1500.8,1156.1 1507.1,1173.5" fill="none" stroke="#b34a4a" stroke-width="1.8" stroke-linejoin="round"/>
<text transform="translate(865,1220.5) rotate(-20)" x="0" y="0" font-family="'Liberation Sans', Arial, sans-serif" font-size="24" font-weight="bold" fill="#2a0606" text-anchor="middle" textLength="72" lengthAdjust="spacingAndGlyphs">SO<tspan font-size="16" dy="5">3</tspan><tspan dy="-5">H</tspan></text>
<text transform="translate(1531,1210) rotate(40)" x="0" y="0" font-family="'Liberation Sans', Arial, sans-serif" font-size="25" font-weight="bold" fill="#2a0606" text-anchor="middle" textLength="80" lengthAdjust="spacingAndGlyphs">SO<tspan font-size="16" dy="5">3</tspan><tspan dy="-5">H</tspan></text>
<text x="942.5" y="1161" font-family="'Liberation Sans', Arial, sans-serif" font-size="25.5" font-weight="bold" fill="#1a1a1a" text-anchor="start" textLength="59" lengthAdjust="spacingAndGlyphs">HSO</text>
<text x="1002.5" y="1169" font-family="'Liberation Sans', Arial, sans-serif" font-size="15" font-weight="bold" fill="#1a1a1a" text-anchor="start">4</text>
<text x="1014" y="1154" font-family="'Liberation Sans', Arial, sans-serif" font-size="17" font-weight="bold" fill="#1a1a1a" text-anchor="start">-</text>
<text x="1382.5" y="1164.8" font-family="'Liberation Sans', Arial, sans-serif" font-size="25.5" font-weight="bold" fill="#1a1a1a" text-anchor="start" textLength="61" lengthAdjust="spacingAndGlyphs">HSO</text>
<text x="1445" y="1172" font-family="'Liberation Sans', Arial, sans-serif" font-size="15" font-weight="bold" fill="#1a1a1a" text-anchor="start">4</text>
<text x="1456" y="1157" font-family="'Liberation Sans', Arial, sans-serif" font-size="17" font-weight="bold" fill="#1a1a1a" text-anchor="start">-</text>
<polygon points="998.7,1047.1 1036.7,1058.5 1043.5,1090.4 1006.3,1120 969.1,1107.1 962.3,1072.9" fill="url(#yel)" stroke="#8c8450" stroke-width="2.2" stroke-linejoin="round"/>
<polygon points="1392,1047.3 1430.6,1075.7 1426.7,1102.5 1388.8,1121.4 1351.8,1093 1357.3,1061.5" fill="url(#yel)" stroke="#8c8450" stroke-width="2.2" stroke-linejoin="round"/>
<text transform="translate(1047,1056) rotate(-42)" x="0" y="0" font-family="'Liberation Sans', Arial, sans-serif" font-size="23" font-weight="bold" fill="#111" text-anchor="middle">N</text>
<text x="1060" y="1050" font-family="'Liberation Sans', Arial, sans-serif" font-size="16" font-weight="bold" fill="#111" text-anchor="start">:</text>
<text transform="translate(958,1119) rotate(-42)" x="0" y="0" font-family="'Liberation Sans', Arial, sans-serif" font-size="21" font-weight="bold" fill="#111" text-anchor="middle">N</text>
<text x="942.5" y="1102" font-family="'Liberation Sans', Arial, sans-serif" font-size="14" font-weight="bold" fill="#111" text-anchor="middle">+</text>
<text transform="translate(1353,1061) rotate(42)" x="0" y="0" font-family="'Liberation Sans', Arial, sans-serif" font-size="23" font-weight="bold" fill="#111" text-anchor="middle">N</text>
<text x="1339" y="1053" font-family="'Liberation Sans', Arial, sans-serif" font-size="16" font-weight="bold" fill="#111" text-anchor="start">:</text>
<text transform="translate(1433,1123) rotate(42)" x="0" y="0" font-family="'Liberation Sans', Arial, sans-serif" font-size="21" font-weight="bold" fill="#111" text-anchor="middle">N</text>
<text x="1449" y="1105" font-family="'Liberation Sans', Arial, sans-serif" font-size="14" font-weight="bold" fill="#111" text-anchor="middle">+</text>
<polyline points="1063,1043 1066,1035 1072,1028 1079,1027 1084,1032" fill="none" stroke="#333" stroke-width="1.8" stroke-linejoin="round"/>
<polyline points="1312,1031 1322,1029 1331,1033 1337,1041" fill="none" stroke="#333" stroke-width="1.8" stroke-linejoin="round"/>
<text x="1201.5" y="858.5" font-family="'Liberation Serif', 'Times New Roman', serif" font-size="19" font-weight="bold" fill="#d42a2a" text-anchor="middle" textLength="34" lengthAdjust="spacingAndGlyphs">OH</text>
<line x1="1194" y1="863" x2="1194" y2="896" stroke="#555" stroke-width="2.3"/>
<text x="1192.5" y="914" font-family="'Liberation Serif', 'Times New Roman', serif" font-size="20" font-weight="normal" fill="#333" text-anchor="middle">Cr</text>
<line x1="1194" y1="918" x2="1194" y2="989" stroke="#555" stroke-width="2.3"/>
<text x="1192.4" y="1007.3" font-family="'Liberation Serif', 'Times New Roman', serif" font-size="21" font-weight="normal" fill="#333" text-anchor="middle">O</text>
<polygon points="1175.3,901.7 1133.7,888.1 1131.3,899.9 1174.7,904.3" fill="#111"/>
<polygon points="1211.5,901.7 1251.7,891.1 1247.3,879.9 1210.5,899.3" fill="#111"/>
<line x1="1175.1" y1="910.5" x2="1174.1" y2="907" stroke="#555" stroke-width="1.6"/>
<line x1="1170.4" y1="912.5" x2="1169" y2="907.8" stroke="#555" stroke-width="1.6"/>
<line x1="1165.7" y1="914.6" x2="1164" y2="908.6" stroke="#555" stroke-width="1.6"/>
<line x1="1161.1" y1="916.6" x2="1158.9" y2="909.4" stroke="#555" stroke-width="1.6"/>
<line x1="1156.4" y1="918.6" x2="1153.9" y2="910.2" stroke="#555" stroke-width="1.6"/>
<line x1="1151.7" y1="920.7" x2="1148.9" y2="911" stroke="#555" stroke-width="1.6"/>
<line x1="1147" y1="922.7" x2="1143.8" y2="911.8" stroke="#555" stroke-width="1.6"/>
<line x1="1213" y1="906.9" x2="1212.2" y2="910.3" stroke="#555" stroke-width="1.6"/>
<line x1="1218.3" y1="907.6" x2="1217.3" y2="911.9" stroke="#555" stroke-width="1.6"/>
<line x1="1223.7" y1="908.2" x2="1222.5" y2="913.6" stroke="#555" stroke-width="1.6"/>
<line x1="1229" y1="908.9" x2="1227.6" y2="915.3" stroke="#555" stroke-width="1.6"/>
<line x1="1234.3" y1="909.6" x2="1232.7" y2="916.9" stroke="#555" stroke-width="1.6"/>
<line x1="1239.6" y1="910.3" x2="1237.8" y2="918.6" stroke="#555" stroke-width="1.6"/>
<line x1="1245" y1="910.9" x2="1242.9" y2="920.2" stroke="#555" stroke-width="1.6"/>
<line x1="1250.3" y1="911.6" x2="1248" y2="921.9" stroke="#555" stroke-width="1.6"/>
<line x1="1255.6" y1="912.3" x2="1253.1" y2="923.5" stroke="#555" stroke-width="1.6"/>
<text x="1119" y="898.8" font-family="'Liberation Serif', 'Times New Roman', serif" font-size="20" font-weight="normal" fill="#333" text-anchor="middle">O</text>
<text x="1261.5" y="887.8" font-family="'Liberation Serif', 'Times New Roman', serif" font-size="20" font-weight="normal" fill="#333" text-anchor="middle">O</text>
<text x="1132" y="926.8" font-family="'Liberation Serif', 'Times New Roman', serif" font-size="20" font-weight="normal" fill="#333" text-anchor="middle">O</text>
<text x="1268" y="926.8" font-family="'Liberation Serif', 'Times New Roman', serif" font-size="20" font-weight="normal" fill="#333" text-anchor="middle">O</text>
<line x1="1057.7" y1="921" x2="1108.7" y2="896.6" stroke="#555" stroke-width="2.3"/>
<polygon points="1053.5,922.3 999.5,892.5 994.5,903.5 1052.5,924.7" fill="#111"/>
<line x1="1056.6" y1="928.8" x2="1067.7" y2="962.1" stroke="#555" stroke-width="2.3"/>
<text x="1070" y="981.3" font-family="'Liberation Serif', 'Times New Roman', serif" font-size="20" font-weight="normal" fill="#333" text-anchor="middle">O</text>
<line x1="1013.3" y1="931.6" x2="1081" y2="945.5" stroke="#555" stroke-width="2.3"/>
<line x1="1081" y1="945.5" x2="1120.9" y2="924.4" stroke="#555" stroke-width="2.3"/>
<line x1="1082.1" y1="947.7" x2="1104.3" y2="976.5" stroke="#555" stroke-width="2.3"/>
<text x="1109.8" y="993.3" font-family="'Liberation Serif', 'Times New Roman', serif" font-size="20" font-weight="normal" fill="#333" text-anchor="middle">O</text>
<polygon points="1091.1,1023.4 1075.4,984.9 1065.6,990.1 1088.9,1024.6" fill="#111"/>
<line x1="1096.5" y1="1021.5" x2="1100" y2="1022.6" stroke="#555" stroke-width="1.6"/>
<line x1="1097" y1="1016.9" x2="1102.1" y2="1018.4" stroke="#555" stroke-width="1.6"/>
<line x1="1097.6" y1="1012.2" x2="1104.1" y2="1014.1" stroke="#555" stroke-width="1.6"/>
<line x1="1098.2" y1="1007.6" x2="1106.1" y2="1009.9" stroke="#555" stroke-width="1.6"/>
<line x1="1098.8" y1="1002.9" x2="1108.1" y2="1005.6" stroke="#555" stroke-width="1.6"/>
<line x1="1099.4" y1="998.2" x2="1110.1" y2="1001.4" stroke="#555" stroke-width="1.6"/>
<text x="1097.6" y="1044" font-family="'Liberation Serif', 'Times New Roman', serif" font-size="20" font-weight="normal" fill="#333" text-anchor="middle">Cr</text>
<line x1="1113.5" y1="1029" x2="1180.7" y2="1004.6" stroke="#555" stroke-width="2.3"/>
<line x1="1206" y1="1003.6" x2="1289.8" y2="1027" stroke="#555" stroke-width="2.3"/>
<text x="1299.5" y="1040.5" font-family="'Liberation Serif', 'Times New Roman', serif" font-size="20" font-weight="normal" fill="#333" text-anchor="middle">Cr</text>
<line x1="1274.4" y1="887.5" x2="1329.3" y2="915" stroke="#555" stroke-width="2.3"/>
<polygon points="1329.8,916.2 1388.6,896.6 1384.4,886.4 1328.8,913.8" fill="#111"/>
<line x1="1329.3" y1="918" x2="1329.3" y2="976.8" stroke="#555" stroke-width="2.3"/>
<text x="1332.8" y="994.8" font-family="'Liberation Serif', 'Times New Roman', serif" font-size="20" font-weight="normal" fill="#333" text-anchor="middle">O</text>
<line x1="1280.2" y1="924.3" x2="1310.6" y2="937.7" stroke="#555" stroke-width="2.3"/>
<line x1="1310.6" y1="937.7" x2="1373.7" y2="925.4" stroke="#555" stroke-width="2.3"/>
<line x1="1310.6" y1="940" x2="1302.4" y2="972.1" stroke="#555" stroke-width="2.3"/>
<text x="1300.7" y="987.8" font-family="'Liberation Serif', 'Times New Roman', serif" font-size="20" font-weight="normal" fill="#333" text-anchor="middle">O</text>
<line x1="1298.7" y1="1020.8" x2="1302.7" y2="1020.8" stroke="#555" stroke-width="1.6"/>
<line x1="1297.7" y1="1015.2" x2="1303.7" y2="1015.2" stroke="#555" stroke-width="1.6"/>
<line x1="1296.7" y1="1009.6" x2="1304.7" y2="1009.6" stroke="#555" stroke-width="1.6"/>
<line x1="1295.7" y1="1004" x2="1305.7" y2="1004" stroke="#555" stroke-width="1.6"/>
<line x1="1294.7" y1="998.4" x2="1306.7" y2="998.4" stroke="#555" stroke-width="1.6"/>
<line x1="1293.7" y1="992.8" x2="1307.7" y2="992.8" stroke="#555" stroke-width="1.6"/>
<polygon points="1310.4,1023.2 1332.3,1003.7 1323.9,996.7 1308.4,1021.6" fill="#111"/>
<line x1="1115.8" y1="1046.1" x2="1114.3" y2="1049.4" stroke="#555" stroke-width="1.6"/>
<line x1="1121.3" y1="1047.9" x2="1119.2" y2="1052.4" stroke="#555" stroke-width="1.6"/>
<line x1="1126.7" y1="1049.8" x2="1124" y2="1055.4" stroke="#555" stroke-width="1.6"/>
<line x1="1132.1" y1="1051.6" x2="1128.9" y2="1058.4" stroke="#555" stroke-width="1.6"/>
<line x1="1137.5" y1="1053.5" x2="1133.8" y2="1061.4" stroke="#555" stroke-width="1.6"/>
<line x1="1142.9" y1="1055.3" x2="1138.6" y2="1064.4" stroke="#555" stroke-width="1.6"/>
<line x1="1148.4" y1="1057.2" x2="1143.5" y2="1067.4" stroke="#555" stroke-width="1.6"/>
<polygon points="1105.6,1053.2 1131.9,1089.1 1140.1,1081.9 1107.6,1051.4" fill="#111"/>
<line x1="1287.2" y1="1045.6" x2="1284.8" y2="1042.8" stroke="#555" stroke-width="1.6"/>
<line x1="1283.9" y1="1049.3" x2="1280.7" y2="1045.5" stroke="#555" stroke-width="1.6"/>
<line x1="1280.6" y1="1052.9" x2="1276.5" y2="1048.3" stroke="#555" stroke-width="1.6"/>
<line x1="1277.4" y1="1056.6" x2="1272.4" y2="1051" stroke="#555" stroke-width="1.6"/>
<line x1="1274.1" y1="1060.3" x2="1268.3" y2="1053.7" stroke="#555" stroke-width="1.6"/>
<line x1="1270.8" y1="1064" x2="1264.2" y2="1056.4" stroke="#555" stroke-width="1.6"/>
<line x1="1267.6" y1="1067.7" x2="1260.1" y2="1059.1" stroke="#555" stroke-width="1.6"/>
<polygon points="1292.5,1046 1270.9,1091 1281.1,1095 1294.9,1047" fill="#111"/>
<text x="1156.3" y="1072.8" font-family="'Liberation Serif', 'Times New Roman', serif" font-size="20" font-weight="normal" fill="#333" text-anchor="middle">O</text>
<text x="1141.7" y="1102" font-family="'Liberation Serif', 'Times New Roman', serif" font-size="20" font-weight="normal" fill="#333" text-anchor="middle">O</text>
<text x="1255.7" y="1076.7" font-family="'Liberation Serif', 'Times New Roman', serif" font-size="20" font-weight="normal" fill="#333" text-anchor="middle">O</text>
<text x="1270.3" y="1111.8" font-family="'Liberation Serif', 'Times New Roman', serif" font-size="20" font-weight="normal" fill="#333" text-anchor="middle">O</text>
<line x1="1166" y1="1070" x2="1212.8" y2="1088.4" stroke="#555" stroke-width="2.3"/>
<line x1="1212.8" y1="1088.4" x2="1246.9" y2="1075.7" stroke="#555" stroke-width="2.3"/>
<line x1="1212.8" y1="1088.4" x2="1212.8" y2="1143" stroke="#555" stroke-width="2.3"/>
<line x1="1150.5" y1="1101.5" x2="1187.5" y2="1129.3" stroke="#555" stroke-width="2.3"/>
<line x1="1187.5" y1="1129.3" x2="1260" y2="1107" stroke="#555" stroke-width="2.3"/>
<polygon points="1186.5,1130 1182,1182.1 1197,1181.9 1190.5,1130" fill="#111"/>
<polyline points="449.5,1444.4 520.4,1476.3 520.4,1542.6 448.2,1573.2 375.5,1540 376.8,1474.2 449.5,1444.4" fill="none" stroke="#4a4a4a" stroke-width="3" stroke-linejoin="round"/>
<line x1="388.3" y1="1480.6" x2="448.2" y2="1453.3" stroke="#4a4a4a" stroke-width="3"/>
<line x1="510.7" y1="1481.4" x2="510.7" y2="1537.5" stroke="#4a4a4a" stroke-width="3"/>
<line x1="385.7" y1="1534.2" x2="447" y2="1563" stroke="#4a4a4a" stroke-width="3"/>
<line x1="520.4" y1="1476.3" x2="593.6" y2="1448.2" stroke="#4a4a4a" stroke-width="3"/>
<line x1="593.6" y1="1448.2" x2="676.5" y2="1449.5" stroke="#4a4a4a" stroke-width="3"/>
<line x1="593.6" y1="1448.2" x2="624.2" y2="1410" stroke="#4a4a4a" stroke-width="3"/>
<line x1="676.5" y1="1449.5" x2="651" y2="1411.2" stroke="#4a4a4a" stroke-width="3"/>
<text x="638.3" y="1407.5" font-family="'Liberation Sans', Arial, sans-serif" font-size="39" font-weight="bold" fill="#111" text-anchor="middle" textLength="36" lengthAdjust="spacingAndGlyphs">O</text>
<text x="683" y="1549" font-family="'Liberation Sans', Arial, sans-serif" font-size="56" font-weight="bold" fill="#111" text-anchor="middle" stroke="#111" stroke-width="2.2">+</text>
<text x="721.5" y="1544" font-family="'Liberation Sans', Arial, sans-serif" font-size="41" font-weight="bold" fill="#1a1a1a" text-anchor="start" textLength="68" lengthAdjust="spacingAndGlyphs">CH</text>
<text x="790" y="1552" font-family="'Liberation Sans', Arial, sans-serif" font-size="24" font-weight="bold" fill="#1a1a1a" text-anchor="start">3</text>
<text x="804" y="1544" font-family="'Liberation Sans', Arial, sans-serif" font-size="41" font-weight="bold" fill="#1a1a1a" text-anchor="start" textLength="64" lengthAdjust="spacingAndGlyphs">OH</text>
<polyline points="1665.1,1453.9 1728.4,1485.9 1728.4,1552.9 1665.1,1585.5 1600.8,1552.9 1600.8,1485.9 1665.1,1453.9" fill="none" stroke="#4a4a4a" stroke-width="3" stroke-linejoin="round"/>
<line x1="1665.1" y1="1461" x2="1721.2" y2="1490.6" stroke="#4a4a4a" stroke-width="3"/>
<line x1="1610" y1="1490.6" x2="1610" y2="1548.8" stroke="#4a4a4a" stroke-width="3"/>
<line x1="1665.1" y1="1577.3" x2="1721.2" y2="1547.8" stroke="#4a4a4a" stroke-width="3"/>
<line x1="1728.4" y1="1485.9" x2="1794.7" y2="1459" stroke="#4a4a4a" stroke-width="3"/>
<line x1="1794.7" y1="1459" x2="1794.7" y2="1391.6" stroke="#4a4a4a" stroke-width="3"/>
<line x1="1794.7" y1="1459" x2="1855.9" y2="1487.6" stroke="#4a4a4a" stroke-width="3"/>
<line x1="1855.9" y1="1487.6" x2="1897.8" y2="1465.1" stroke="#4a4a4a" stroke-width="3"/>
<text x="1773" y="1381.8" font-family="'Liberation Sans', Arial, sans-serif" font-size="50" font-weight="bold" fill="#0a0a0a" text-anchor="start" textLength="117" lengthAdjust="spacingAndGlyphs">OCH</text>
<text x="1894.5" y="1390.8" font-family="'Liberation Sans', Arial, sans-serif" font-size="35" font-weight="bold" fill="#0a0a0a" text-anchor="start" textLength="19.5" lengthAdjust="spacingAndGlyphs">3</text>
<text x="1904.5" y="1472.2" font-family="'Liberation Sans', Arial, sans-serif" font-size="50" font-weight="bold" fill="#0a0a0a" text-anchor="start" textLength="75.5" lengthAdjust="spacingAndGlyphs">OH</text>
<rect x="887.5" y="1559.6" width="617.5" height="179.7" fill="none" stroke="#3b79ba" stroke-width="6"/>
<polygon points="960.4,1598.8 1016.2,1598.8 1041.8,1647 1016.2,1695.3 960.4,1695.3 934.8,1647" fill="url(#yel)" stroke="#b8982a" stroke-width="3" stroke-linejoin="round"/>
<text x="912" y="1657" font-family="'Liberation Sans', Arial, sans-serif" font-size="29" font-weight="bold" fill="#111" text-anchor="start" textLength="20" lengthAdjust="spacingAndGlyphs">N</text>
<text x="896.5" y="1655" font-family="'Liberation Sans', Arial, sans-serif" font-size="26" font-weight="bold" fill="#111" text-anchor="start">:</text>
<text x="1047.5" y="1657" font-family="'Liberation Sans', Arial, sans-serif" font-size="29" font-weight="bold" fill="#111" text-anchor="start" textLength="21" lengthAdjust="spacingAndGlyphs">N</text>
<text x="1080.5" y="1655" font-family="'Liberation Sans', Arial, sans-serif" font-size="26" font-weight="bold" fill="#111" text-anchor="start">:</text>
<rect x="1093.5" y="1636.5" width="45.5" height="22" fill="#5d8fc8" stroke="#3a6ea8" stroke-width="1.5"/>
<line x1="1095" y1="1644" x2="1137.5" y2="1644" stroke="#e8f0fa" stroke-width="2.6"/>
<line x1="1095" y1="1651.5" x2="1137.5" y2="1651.5" stroke="#e8f0fa" stroke-width="2.6"/>
<polyline points="1176,1640 1189.6,1610.8 1237.8,1610.8 1253,1637" fill="none" stroke="#8a8a8a" stroke-width="1.8" stroke-linejoin="round"/>
<polyline points="1176,1659 1189.6,1687.7 1237.8,1687.7 1253,1660" fill="none" stroke="#8a8a8a" stroke-width="1.8" stroke-linejoin="round"/>
<text x="1142.8" y="1656.5" font-family="'Liberation Sans', Arial, sans-serif" font-size="20" font-weight="bold" fill="#111" text-anchor="start" textLength="30" lengthAdjust="spacingAndGlyphs">HN</text>
<text x="1164" y="1641" font-family="'Liberation Sans', Arial, sans-serif" font-size="14" font-weight="bold" fill="#111" text-anchor="middle">..</text>
<text x="1254.5" y="1656.5" font-family="'Liberation Sans', Arial, sans-serif" font-size="20" font-weight="bold" fill="#111" text-anchor="start" textLength="33" lengthAdjust="spacingAndGlyphs">NH</text>
<text x="1262.5" y="1641" font-family="'Liberation Sans', Arial, sans-serif" font-size="14" font-weight="bold" fill="#111" text-anchor="middle">..</text>
<text x="1295" y="1659.5" font-family="'Liberation Sans', Arial, sans-serif" font-size="29" font-weight="bold" fill="#111" text-anchor="start" textLength="36" lengthAdjust="spacingAndGlyphs">Or</text>
<text x="1344.5" y="1655" font-family="'Liberation Sans', Arial, sans-serif" font-size="26" font-weight="bold" fill="#111" text-anchor="start">:</text>
<text x="1358" y="1657" font-family="'Liberation Sans', Arial, sans-serif" font-size="29" font-weight="bold" fill="#111" text-anchor="start" textLength="19" lengthAdjust="spacingAndGlyphs">N</text>
<text x="1453" y="1657" font-family="'Liberation Sans', Arial, sans-serif" font-size="29" font-weight="bold" fill="#111" text-anchor="start" textLength="19" lengthAdjust="spacingAndGlyphs">N</text>
<text x="1480.5" y="1655" font-family="'Liberation Sans', Arial, sans-serif" font-size="26" font-weight="bold" fill="#111" text-anchor="start">:</text>
<polyline points="1374,1640 1391.6,1604.8 1439.8,1604.8 1455,1637" fill="none" stroke="#8a8a8a" stroke-width="1.8" stroke-linejoin="round"/>
<polyline points="1374,1660 1391.6,1687.7 1439.8,1687.7 1455,1662" fill="none" stroke="#8a8a8a" stroke-width="1.8" stroke-linejoin="round"/>
<polyline points="1376,1644 1397,1635 1428,1663.5 1449,1653" fill="none" stroke="#8a8a8a" stroke-width="1.8" stroke-linejoin="round"/>
</svg></div></body></html>
